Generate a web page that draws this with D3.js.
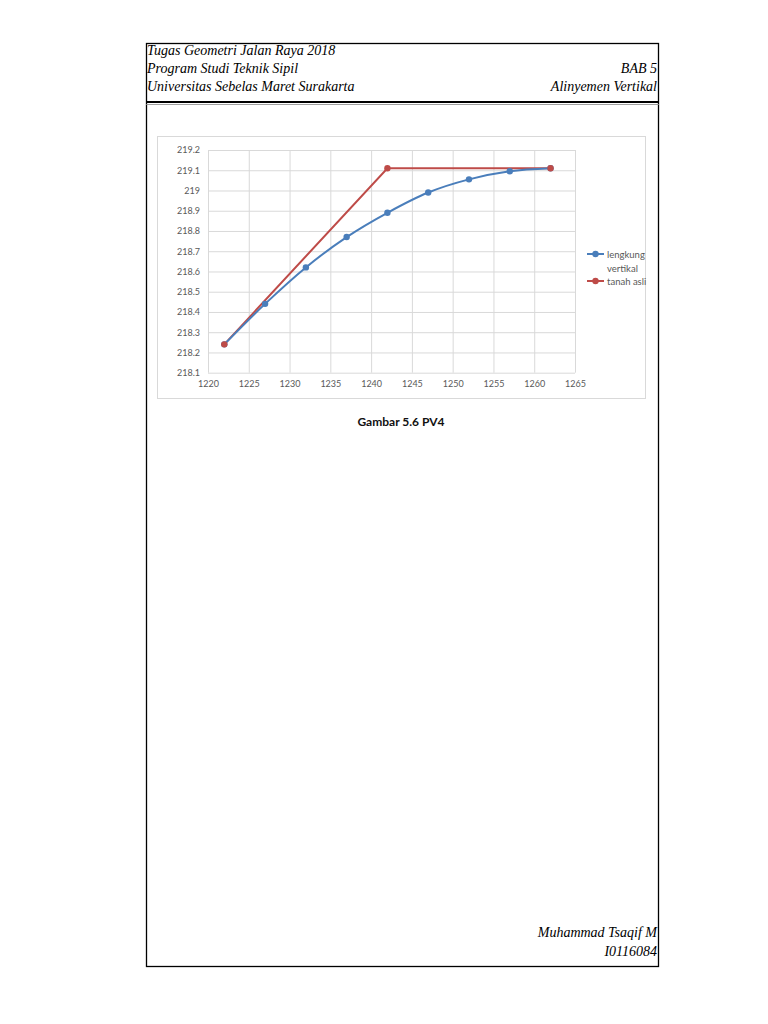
<!DOCTYPE html>
<html>
<head>
<meta charset="utf-8">
<script src="https://cdn.jsdelivr.net/npm/d3@7.9.0/dist/d3.min.js"></script>
<style>
  html, body { margin: 0; padding: 0; background: #fff; }
  svg { display: block; }
  .hdr { font-family: "Liberation Serif", serif; font-style: italic; font-size: 14px; fill: #000; }
  .tick text { font-family: Lato, "Open Sans", sans-serif; font-size: 9px; fill: #595959; }
</style>
</head>
<body>
<svg id="page" width="768" height="1024"></svg>
<script>
// data
const stations = [1222, 1227, 1232, 1237, 1242, 1247, 1252, 1257, 1262];
const lengkung = [218.24, 218.44, 218.62, 218.77, 218.89, 218.99, 219.055, 219.095, 219.11];
const tanahX = [1222, 1242, 1262];
const tanahY = [218.24, 219.11, 219.11];
const xTicks = [1220, 1225, 1230, 1235, 1240, 1245, 1250, 1255, 1260, 1265];
const yTicks = [218.1, 218.2, 218.3, 218.4, 218.5, 218.6, 218.7, 218.8, 218.9, 219, 219.1, 219.2];
const seriesNames = ['lengkung vertikal', 'tanah asli'];
const seriesColors = ['#4a7ebb', '#be4b48'];

const svg = d3.select('#page');

// page frame
svg.append('rect').attr('x', 146.5).attr('y', 43.5).attr('width', 512).attr('height', 923)
  .attr('fill', 'none').attr('stroke', '#000').attr('stroke-width', 1.3);
svg.append('line').attr('x1', 146).attr('x2', 659).attr('y1', 102).attr('y2', 102)
  .attr('stroke', '#000').attr('stroke-width', 2.2);
svg.append('line').attr('x1', 146).attr('x2', 659).attr('y1', 104.5).attr('y2', 104.5)
  .attr('stroke', '#888').attr('stroke-width', 0.8);

// header text
const hdr = svg.append('g').attr('class', 'hdr');
hdr.append('text').attr('x', 147).attr('y', 55).text('Tugas Geometri Jalan Raya 2018');
hdr.append('text').attr('x', 147).attr('y', 73).text('Program Studi Teknik Sipil');
hdr.append('text').attr('x', 147).attr('y', 91).text('Universitas Sebelas Maret Surakarta');
hdr.append('text').attr('x', 657).attr('y', 73).attr('text-anchor', 'end').text('BAB 5');
hdr.append('text').attr('x', 657).attr('y', 91).attr('text-anchor', 'end').text('Alinyemen Vertikal');

// footer
hdr.append('text').attr('x', 657).attr('y', 937).attr('text-anchor', 'end').text('Muhammad Tsaqif M');
hdr.append('text').attr('x', 657).attr('y', 956).attr('text-anchor', 'end').text('I0116084');

// chart box
svg.append('rect').attr('x', 157.5).attr('y', 136.5).attr('width', 488).attr('height', 262)
  .attr('fill', '#fff').attr('stroke', '#d9d9d9');

const x = d3.scaleLinear().domain([1220, 1265]).range([208, 575]);
const y = d3.scaleLinear().domain([218.1, 219.2]).range([372.7, 150]);

// gridlines via axes
svg.append('g').attr('class', 'tick-y')
  .attr('transform', `translate(${x.range()[0]},0)`)
  .call(d3.axisLeft(y).tickValues(yTicks).tickSize(-(x.range()[1] - x.range()[0])).tickPadding(8)
    .tickFormat(d => d3.format('')(+d.toFixed(1))))
  .call(g => g.select('.domain').remove())
  .call(g => g.selectAll('.tick line').attr('stroke', '#d9d9d9'));

svg.append('g')
  .attr('transform', `translate(0,${y.range()[0]})`)
  .call(d3.axisBottom(x).tickValues(xTicks).tickSize(-(y.range()[0] - y.range()[1])).tickPadding(8)
    .tickFormat(d3.format('d')))
  .call(g => g.select('.domain').remove())
  .call(g => g.selectAll('.tick line').attr('stroke', '#d9d9d9'));

// series
const blue = stations.map((s, i) => [s, lengkung[i]]);
const red = tanahX.map((s, i) => [s, tanahY[i]]);

const smooth = d3.line().x(d => x(d[0])).y(d => y(d[1])).curve(d3.curveCatmullRom.alpha(0.5));
const straight = d3.line().x(d => x(d[0])).y(d => y(d[1]));

svg.append('path').attr('d', straight(red)).attr('fill', 'none')
  .attr('stroke', seriesColors[1]).attr('stroke-width', 2);
svg.append('path').attr('d', smooth(blue)).attr('fill', 'none')
  .attr('stroke', seriesColors[0]).attr('stroke-width', 2);

svg.selectAll('circle.b').data(blue).join('circle').attr('class', 'b')
  .attr('cx', d => x(d[0])).attr('cy', d => y(d[1])).attr('r', 3.2)
  .attr('fill', seriesColors[0]);
svg.selectAll('circle.r').data(red).join('circle').attr('class', 'r')
  .attr('cx', d => x(d[0])).attr('cy', d => y(d[1])).attr('r', 3.2)
  .attr('fill', seriesColors[1]);

// legend
const legendY = [254, 281];
const lg = svg.append('g');
seriesNames.forEach((name, i) => {
  const ly = legendY[i];
  lg.append('line').attr('x1', 587).attr('x2', 604).attr('y1', ly).attr('y2', ly)
    .attr('stroke', seriesColors[i]).attr('stroke-width', 2);
  lg.append('circle').attr('cx', 595.5).attr('cy', ly).attr('r', 3.2).attr('fill', seriesColors[i]);
  const words = i === 0 ? ['lengkung', 'vertikal'] : [name];
  words.forEach((w, k) => {
    lg.append('text').attr('x', 607).attr('y', ly + 3.5 + k * 14)
      .attr('font-family', 'Lato, "Open Sans", sans-serif').attr('font-size', 9.5)
      .attr('fill', '#595959').text(w);
  });
});

// caption
svg.append('text').attr('x', 401).attr('y', 426).attr('text-anchor', 'middle')
  .attr('font-family', 'Lato, "Open Sans", sans-serif').attr('font-weight', 'bold')
  .attr('font-size', 12).attr('fill', '#111').text('Gambar 5.6 PV4');
</script>
</body>
</html>
